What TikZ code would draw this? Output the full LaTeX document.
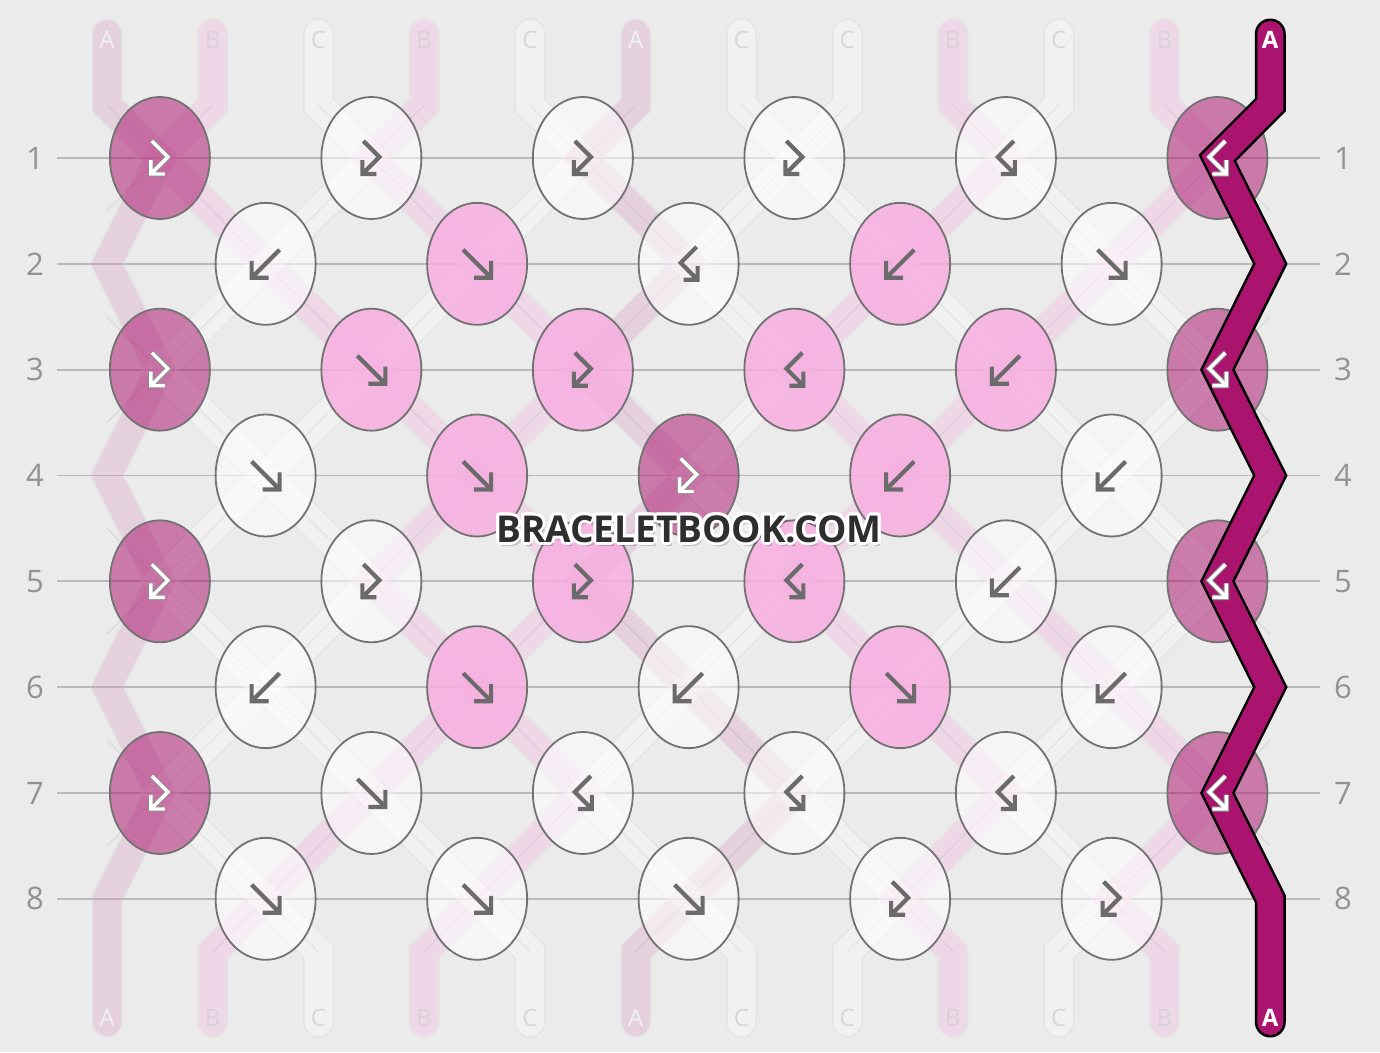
\documentclass[tikz,border=0pt]{standalone}
\usepackage{fontspec}
\setmainfont{Open Sans}
\usepackage{tikz}
\usetikzlibrary{calc,shapes.geometric}

\definecolor{bgcol}{HTML}{EBEBEB}
\definecolor{strA}{HTML}{AA146E}
\definecolor{strB}{HTML}{F7AEE0}
\definecolor{symgray}{HTML}{6B6B6B}
\definecolor{rimgray}{HTML}{727272}
\definecolor{numgray}{HTML}{929292}
\colorlet{fadeA}{strA!45!white}
\colorlet{fadeB}{strB}
\colorlet{fadeC}{white}
\colorlet{letA}{white}
\colorlet{letB}{strB!45!gray}
\colorlet{letC}{gray!70}

\tikzset{
  knot/.style={ellipse, draw=rimgray, line width=1.8pt, minimum width=100pt, minimum height=122pt, inner sep=0pt},
  knotA/.style={knot, fill=strA, fill opacity=0.52},
  knotB/.style={knot, fill=strB, fill opacity=0.85},
  knotC/.style={knot, fill=white, fill opacity=0.55},
  symB/.style={draw=symgray, line width=4.2pt},
  symC/.style={symB},
  symA/.style={draw=gray!90, line width=1pt, double=white, double distance=3.4pt},
  lattice/.style={gray!30, line width=1.2pt},
  rowline/.style={gray!55, line width=1.8pt},
  rownum/.style={text=numgray, font=\fontsize{31}{31}\selectfont, inner sep=0pt},
  strand/.style={line width=28pt, line cap=round, preaction={draw=gray!32, line width=31pt, line cap=round}},
  strandtag/.style={font=\fontsize{24}{24}\selectfont, inner sep=0pt},
  wmtext/.style={font=\bfseries\fontsize{37}{37}\selectfont, inner sep=0pt},
  pics/fw/.style={code={\draw[#1] (-14,-14) -- (12,12) (-3,14) -- (14,14) -- (14,-3);}},
  pics/bw/.style={code={\draw[#1] (14,-14) -- (-12,12) (3,14) -- (-14,14) -- (-14,-3);}},
  pics/fb/.style={code={\draw[#1] (-8,-17) -- (8,-1) -- (-8,15) (5,16) -- (-9,16) -- (-9,2);}},
  pics/bf/.style={code={\draw[#1] (8,-17) -- (-8,-1) -- (8,15) (-5,16) -- (9,16) -- (9,2);}},
}

% knot rows: colour/knot type
\def\knotrows{1/{A/fb,C/fb,C/fb,C/fb,C/bf,A/bf},2/{C/bw,B/fw,C/bf,B/bw,C/fw},3/{A/fb,B/fw,B/fb,B/bf,B/bw,A/bf},4/{C/fw,B/fw,A/fb,B/bw,C/bw},5/{A/fb,C/fb,B/fb,B/bf,C/bw,A/bf},6/{C/bw,B/fw,C/bw,B/fw,C/bw},7/{A/fb,C/fw,C/bf,C/bf,C/bf,A/bf},8/{C/fw,C/fw,C/fw,C/fb,C/fb}}

\begin{document}
\begin{tikzpicture}[x=1pt, y=-1pt]

        \fill[bgcol] (0,0) rectangle (1380,1052);
        \useasboundingbox (0,0) rectangle (1380,1052);

        % row numbers and row lines
        \foreach \r in {1,...,8}{
            \pgfmathsetmacro\ry{158+105.83*(\r-1)}
            \node[rownum] (nl\r) at (35,\ry) {\r};
            \node[rownum] (nr\r) at (1343,\ry) {\r};
            \draw[rowline] ($(nl\r)+(22,0)$) -- ($(nr\r)+(-23,0)$);
        }

        % knot centres and the thin grid through them
        \foreach \r/\row in \knotrows {
            \foreach \col/\typ [count=\k] in \row {
                \pgfmathsetmacro\kx{((mod(\r,2)==1) ? 159.875 : 265.625)+211.5*(\k-1)}
                \coordinate (c\r-\k) at (\kx,{158+105.83*(\r-1)});
                \draw[lattice] (c\r-\k) +(-52.9,-52.9) -- +(52.9,52.9) +(-52.9,52.9) -- +(52.9,-52.9);
            }
        }

        % faint strands: number/colour/end position/positions in rows 1-8
        \foreach \i/\lab/\fin/\seq in {1/A/1/{1,1,1,1,1,1,1,1}, 2/B/2/{2,2,3,4,5,5,4,3}, 3/C/3/{3,3,2,2,3,3,2,2}, 4/B/4/{4,4,5,5,4,4,5,5}, 5/C/5/{5,5,4,3,2,2,3,4}, 6/A/6/{6,6,6,6,6,6,7,7}, 7/C/7/{7,7,7,7,7,7,6,6}, 8/C/10/{8,8,9,10,11,11,10,10}, 9/B/11/{9,9,8,8,9,10,11,11}, 10/C/8/{10,10,11,11,10,9,8,8}, 11/B/9/{11,11,10,9,8,8,9,9}, 12/A/12/{12,12,12,12,12,12,12,12}}{
            \pgfmathsetmacro\xt{107+105.75*(\i-1)}
            \pgfmathsetmacro\xb{107+105.75*(\fin-1)}
            \coordinate (s\i-t) at (\xt,34);
            \coordinate (s\i-a) at (\xt,105);
            \foreach \p [count=\r] in \seq {
                \pgfmathsetmacro\px{107+105.75*(\p-1)+(((mod(\r,2)==0) && ((\p==1) || (\p==12))) ? 0 : ((mod(\p+\r,2)==0) ? 52.875 : -52.875))}
                \coordinate (s\i-\r) at (\px,{158+105.83*(\r-1)});
            }
            \coordinate (s\i-b) at (\xb,952);
            \coordinate (s\i-e) at (\xb,1022);
            \begin{scope}[transparency group, opacity=0.3]
                \draw[strand, draw=fade\lab] (s\i-t) -- (s\i-a) -- (s\i-1) -- (s\i-2) -- (s\i-3) -- (s\i-4) -- (s\i-5) -- (s\i-6) -- (s\i-7) -- (s\i-8) -- (s\i-b) -- (s\i-e);
                \node[strandtag, text=let\lab] (tt\i) at ($(s\i-t)+(0,6)$) {\lab};
                \node[strandtag, text=let\lab] (tb\i) at ($(s\i-e)+(0,-4)$) {\lab};
            \end{scope}
        }

        % knots
        \foreach \r/\row in \knotrows {
            \foreach \col/\typ [count=\k] in \row {
                \node[knot\col] (k\r-\k) at (c\r-\k) {};
            }
        }

        % the picked strand
        \draw[line width=26pt, strA, line cap=round, preaction={draw=black, line width=31pt, line cap=round}] (s12-t) -- (s12-a) -- (s12-1) -- (s12-2) -- (s12-3) -- (s12-4) -- (s12-5) -- (s12-6) -- (s12-7) -- (s12-8) -- (s12-b) -- (s12-e);
        \node[strandtag, text=white, font=\bfseries\fontsize{24}{24}\selectfont] (hlt) at ($(s12-t)+(0,6)$) {A};
        \node[strandtag, text=white, font=\bfseries\fontsize{24}{24}\selectfont] (hlb) at ($(s12-e)+(0,-4)$) {A};

        % knot arrows
        \foreach \r/\row in \knotrows {
            \foreach \col/\typ [count=\k] in \row {
                \pic at (k\r-\k) {\typ=sym\col};
            }
        }

        % watermark
        \coordinate (wmc) at (689,529);
        \node[wmtext, text=black, opacity=0.18] (wmshadow) at ($(wmc)+(2,4)$) {BRACELETBOOK.COM};
        \foreach \a in {0,30,...,330}
            \node[wmtext, text=white] (wmhalo\a) at ($(wmc)+(\a:3)$) {BRACELETBOOK.COM};
        \node[wmtext, text=black!82] (wm) at (wmc) {BRACELETBOOK.COM};

\end{tikzpicture}
\end{document}
